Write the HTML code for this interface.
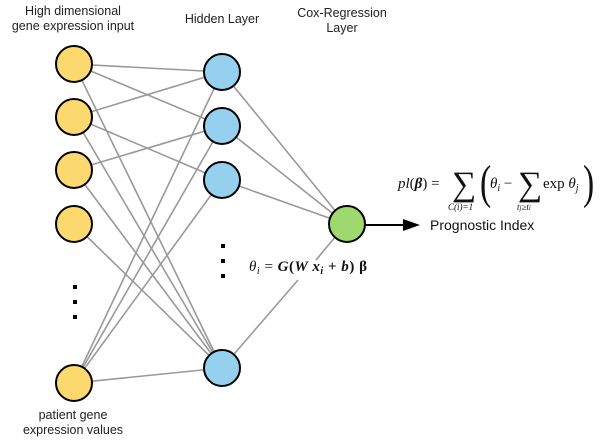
<!DOCTYPE html>
<html><head><style>body{margin:0;background:#fff}</style></head><body>
<svg width="600" height="439" xmlns="http://www.w3.org/2000/svg" font-family="Liberation Sans, sans-serif">
<g stroke="#999" stroke-width="1.6">
<line x1="74" y1="64" x2="222" y2="72"/><line x1="74" y1="64" x2="222" y2="126"/><line x1="74" y1="64" x2="222" y2="368"/>
<line x1="74" y1="117" x2="222" y2="72"/><line x1="74" y1="117" x2="222" y2="180"/><line x1="74" y1="117" x2="222" y2="368"/>
<line x1="74" y1="170" x2="222" y2="126"/><line x1="74" y1="170" x2="222" y2="368"/>
<line x1="74" y1="224" x2="222" y2="368"/>
<line x1="74" y1="383" x2="222" y2="72"/><line x1="74" y1="383" x2="222" y2="126"/><line x1="74" y1="383" x2="222" y2="180"/><line x1="74" y1="383" x2="222" y2="368"/>
<line x1="222" y1="72" x2="346" y2="224"/><line x1="222" y1="126" x2="346" y2="224"/><line x1="222" y1="180" x2="346" y2="224"/>
<line x1="222" y1="368" x2="298" y2="280"/><line x1="316" y1="260" x2="346" y2="224"/>
</g>
<g stroke="#000" stroke-width="2" fill="#fcd96f">
<circle cx="74" cy="64" r="18"/><circle cx="74" cy="117" r="18"/><circle cx="74" cy="170" r="18"/><circle cx="74" cy="224" r="18"/><circle cx="74" cy="383" r="18"/>
</g>
<g stroke="#000" stroke-width="2" fill="#95d0ee">
<circle cx="222" cy="72" r="18"/><circle cx="222" cy="126" r="18"/><circle cx="222" cy="180" r="18"/><circle cx="222" cy="368" r="18"/>
</g>
<circle cx="347" cy="224" r="18" stroke="#000" stroke-width="2" fill="#9ed86f"/>
<line x1="365" y1="225" x2="405" y2="225" stroke="#000" stroke-width="2"/>
<polygon points="403,219 420,225 403,231" fill="#000"/>
<g fill="#000">
<rect x="73" y="285" width="4" height="4"/><rect x="73" y="300" width="4" height="4"/><rect x="73" y="315" width="4" height="4"/>
<rect x="221" y="244" width="4" height="4"/><rect x="221" y="259" width="4" height="4"/><rect x="221" y="274" width="4" height="4"/>
</g>
<g font-size="12.5" fill="#222" text-anchor="middle">
<text x="73" y="15">High dimensional</text><text x="73" y="30">gene expression input</text>
<text x="222" y="23">Hidden Layer</text>
<text x="342" y="17">Cox-Regression</text><text x="342" y="32">Layer</text>
<text x="73" y="419">patient gene</text><text x="73" y="434">expression values</text>
</g>
<text x="430" y="230" font-size="14" fill="#111">Prognostic Index</text>
<g font-family="Liberation Serif, serif" fill="#111">
<text x="249" y="271" font-size="15" textLength="118" lengthAdjust="spacing"><tspan font-style="italic">θ</tspan><tspan font-size="10" dy="3" font-style="italic">i</tspan><tspan dy="-3"> = </tspan><tspan font-weight="bold" font-style="italic">G</tspan><tspan font-weight="bold">(</tspan><tspan font-weight="bold" font-style="italic">W   x</tspan><tspan font-size="10" dy="3" font-weight="bold" font-style="italic">i</tspan><tspan dy="-3" font-weight="bold"> + </tspan><tspan font-weight="bold" font-style="italic">b</tspan><tspan font-weight="bold">)   β</tspan></text>
<text x="398" y="188" font-size="15"><tspan font-style="italic">pl</tspan>(<tspan font-weight="bold" font-style="italic">β</tspan>) =</text>
<text x="452" y="195" font-size="34">∑</text>
<text x="448" y="210" font-size="9" font-style="italic">C(i)=1</text>
<text x="480" y="198" font-size="48" transform="scale(0.7,1)" style="transform-origin:480px 198px">(</text>
<text x="490" y="188" font-size="15"><tspan font-style="italic">θ</tspan><tspan font-size="10" dy="3" font-style="italic">i</tspan><tspan dy="-3"> −</tspan></text>
<text x="518" y="195" font-size="34">∑</text>
<text x="517" y="210" font-size="9" font-style="italic">t<tspan font-size="7">j</tspan>≥t<tspan font-size="7">i</tspan></text>
<text x="543" y="188" font-size="15">exp <tspan font-style="italic">θ</tspan><tspan font-size="10" dy="3" font-style="italic">j</tspan></text>
<text x="583" y="198" font-size="48" transform="scale(0.7,1)" style="transform-origin:583px 198px">)</text>
</g>
</svg>
</body></html>
